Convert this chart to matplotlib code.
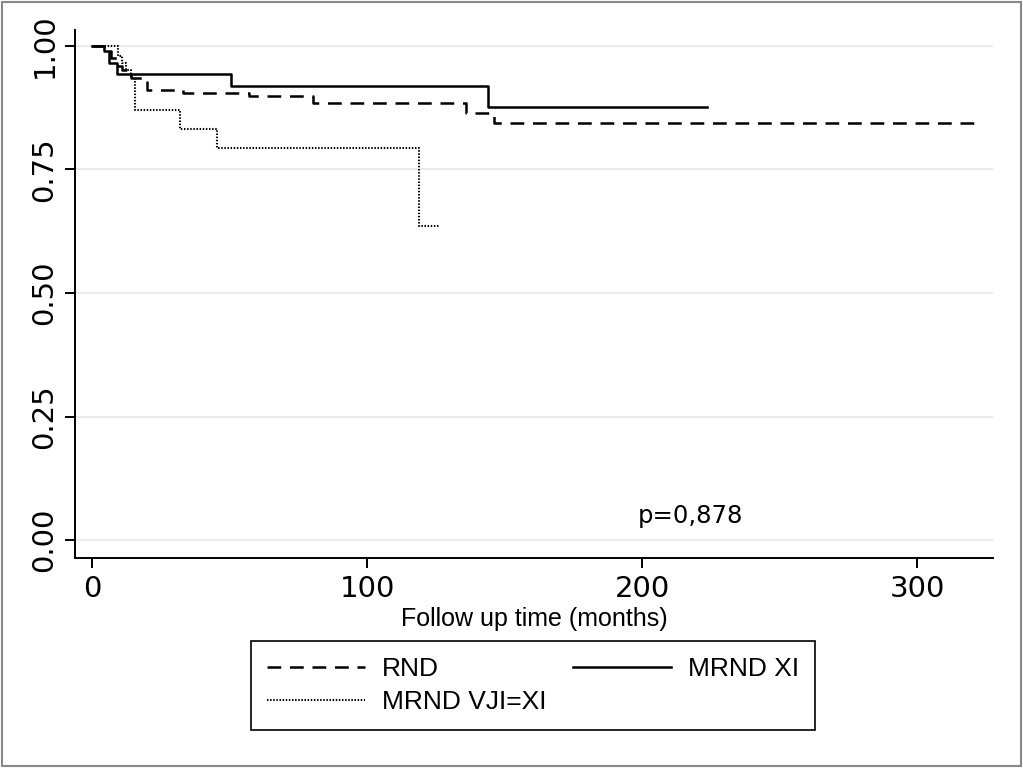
import matplotlib.pyplot as plt
from matplotlib.patches import Rectangle

# Kaplan-Meier curves (time in months, survival)
rnd_t = [0, 4.5, 7, 9, 11, 14, 20, 33, 57, 80.5, 136, 146, 322]
rnd_s = [1.0, 0.99, 0.975, 0.96, 0.95, 0.935, 0.911, 0.905, 0.899, 0.884, 0.865, 0.843, 0.843]

xi_t = [0, 4.4, 6.2, 9, 50.4, 144, 223.6]
xi_s = [1.0, 0.99, 0.966, 0.943, 0.918, 0.876, 0.876]

vji_t = [0, 9.5, 11, 12.5, 14, 15.5, 32, 45.5, 119, 126.5]
vji_s = [1.0, 0.98, 0.965, 0.95, 0.935, 0.87, 0.831, 0.794, 0.636, 0.636]

xticks = [0, 100, 200, 300]
yticks = [0.0, 0.25, 0.5, 0.75, 1.0]

fig = plt.figure(figsize=(10.23, 7.68), dpi=100)
ax = fig.add_axes([0.0733, 0.2734, 0.8974, 0.6876])

ax.step(rnd_t, rnd_s, where="post", color="black", lw=1.8,
        linestyle=(0, (5.5, 3.5)), label="RND")
ax.step(vji_t, vji_s, where="post", color="black", lw=1.5,
        linestyle=(0, (0.7, 0.8)), label="MRND VJI=XI")
ax.step(xi_t, xi_s, where="post", color="black", lw=1.8,
        linestyle="-", label="MRND XI")

ax.set_xlim(-6.2, 327.6)
ax.set_ylim(-0.036, 1.032)
ax.set_xticks(xticks)
ax.set_yticks(yticks)
ax.set_yticklabels(["%.2f" % v for v in yticks], rotation=90, va="center")
ax.tick_params(direction="out", length=7, width=1.4, labelsize=21, pad=5)
for lab in ax.get_xticklabels() + ax.get_yticklabels():
    lab.set_family("DejaVu Sans")

ax.grid(axis="y", color="#e8e8e8", lw=1.2)
ax.set_axisbelow(True)
for s in ["top", "right"]:
    ax.spines[s].set_visible(False)
for s in ["left", "bottom"]:
    ax.spines[s].set_linewidth(1.4)

ax.set_xlabel("Follow up time (months)", fontsize=18, family="Liberation Sans", labelpad=3)
ax.text(198.5, 0.05, "p=0,878", fontsize=17.5, family="DejaVu Sans", ha="left", va="center")

leg = fig.legend(loc="center", bbox_to_anchor=(0.521, 0.107), ncol=2,
                 prop={"family": "Liberation Sans", "size": 19},
                 handlelength=3.7, handletextpad=0.65, columnspacing=1.0,
                 labelspacing=0.35, fancybox=False,
                 edgecolor="black", framealpha=1, borderpad=0.6)
leg.get_frame().set_linewidth(1.2)

fig.patches.append(Rectangle((0.002, 0.003), 0.996, 0.994, transform=fig.transFigure,
                             fill=False, edgecolor="#888888", lw=1.5))

fig.savefig("out.png", dpi=100)
